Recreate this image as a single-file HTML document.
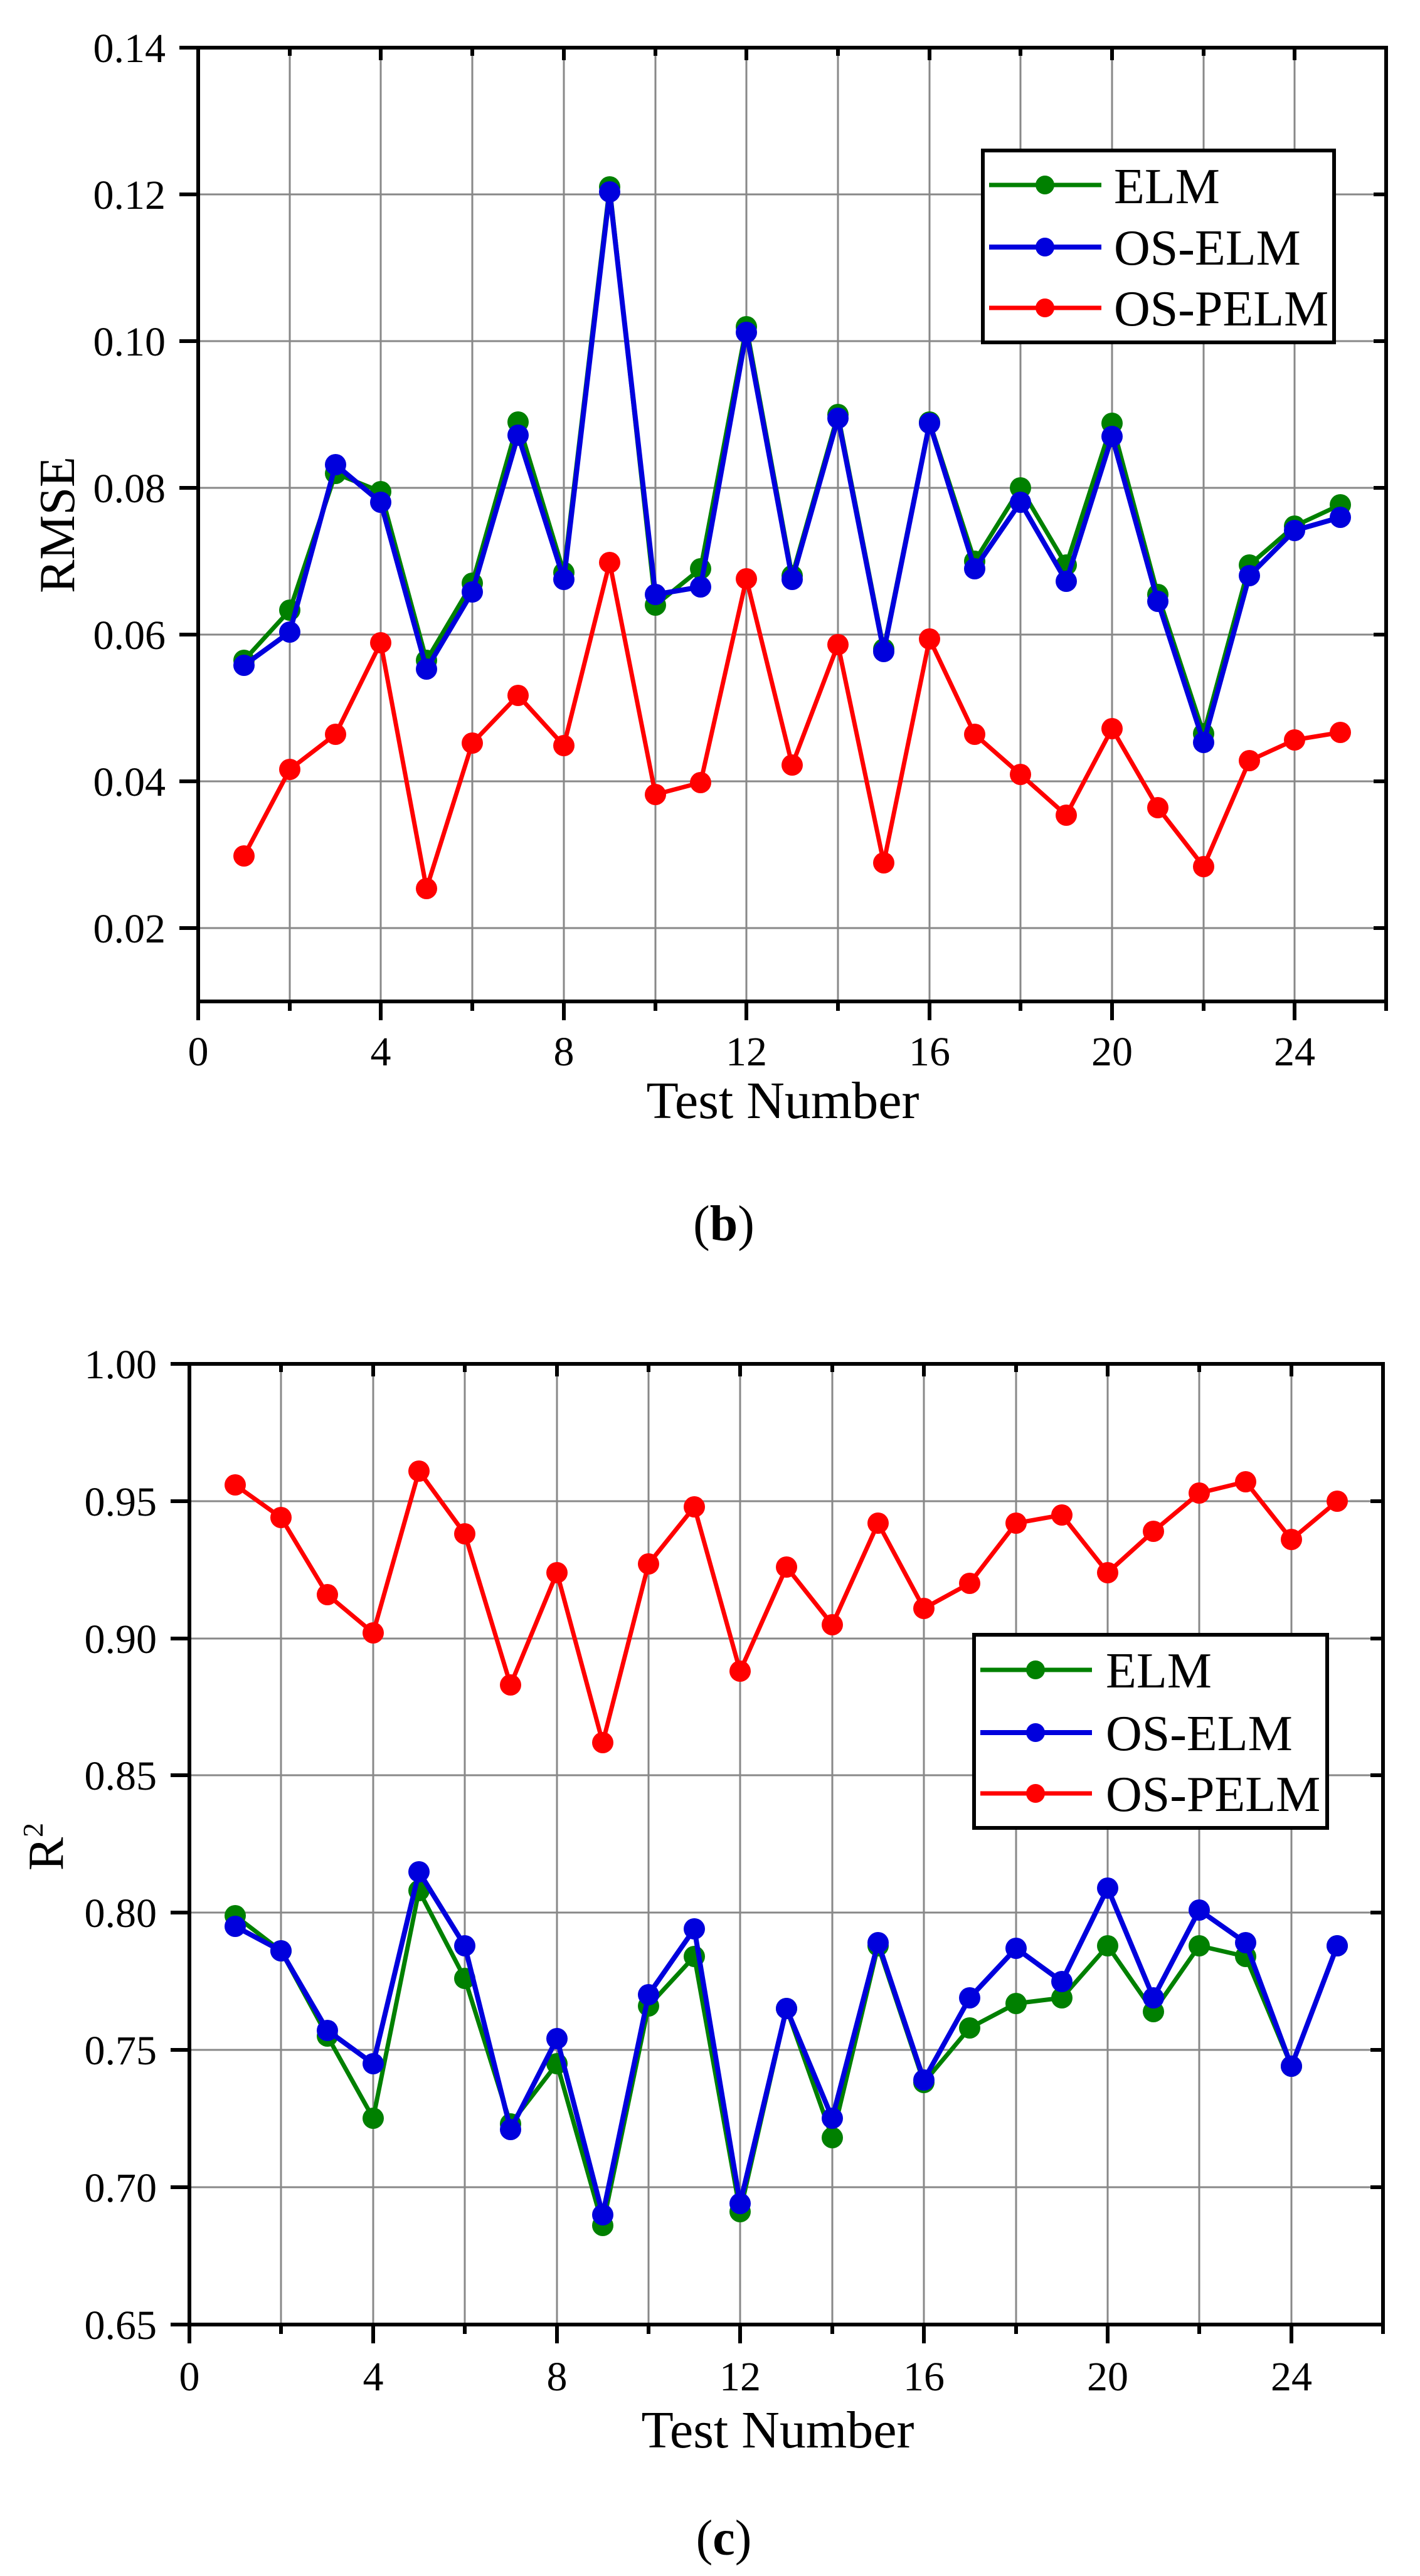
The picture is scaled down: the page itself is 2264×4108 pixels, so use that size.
<!DOCTYPE html>
<html><head><meta charset="utf-8"><style>
html,body{margin:0;padding:0;background:#fff;}
svg{display:block;}
text{font-family:"Liberation Serif",serif;fill:#000;}
</style></head><body>
<svg width="2264" height="4108" viewBox="0 0 2264 4108" xmlns="http://www.w3.org/2000/svg">
<defs>
<marker id="mg" markerUnits="userSpaceOnUse" markerWidth="40" markerHeight="40" refX="20" refY="20"><circle cx="20" cy="20" r="17" fill="#008000"/></marker>
<marker id="mb" markerUnits="userSpaceOnUse" markerWidth="40" markerHeight="40" refX="20" refY="20"><circle cx="20" cy="20" r="17" fill="#0000dd"/></marker>
<marker id="mr" markerUnits="userSpaceOnUse" markerWidth="40" markerHeight="40" refX="20" refY="20"><circle cx="20" cy="20" r="17" fill="#ff0000"/></marker>
</defs>
<rect width="2264" height="4108" fill="#fff"/>

<!-- ===== Chart 1 ===== -->
<g stroke="#888" stroke-width="3">
<path d="M462 76V1597M607 76V1597M753 76V1597M899 76V1597M1045 76V1597M1190 76V1597M1336 76V1597M1482 76V1597M1627 76V1597M1773 76V1597M1919 76V1597M2064 76V1597"/>
<path d="M316 310H2210M316 544H2210M316 778H2210M316 1012H2210M316 1246H2210M316 1480H2210"/>
</g>
<g stroke="#000" stroke-width="6" fill="none">
<rect x="316" y="76" width="1894" height="1521"/>
<path d="M286 76H316M286 310H316M286 544H316M286 778H316M286 1012H316M286 1246H316M286 1480H316"/>
<path d="M2190 310H2210M2190 544H2210M2190 778H2210M2190 1012H2210M2190 1246H2210M2190 1480H2210"/>
<path d="M316 1597v30M462 1597v15M607 1597v30M753 1597v15M899 1597v30M1045 1597v15M1190 1597v30M1336 1597v15M1482 1597v30M1627 1597v15M1773 1597v30M1919 1597v15M2064 1597v30M2210 1597v15"/>
<path d="M462 76v13M607 76v20M753 76v13M899 76v20M1045 76v13M1190 76v20M1336 76v13M1482 76v20M1627 76v13M1773 76v20M1919 76v13M2064 76v20"/>
</g>
<g fill="none" stroke-linejoin="round">
<polyline stroke="#008000" stroke-width="7" marker-start="url(#mg)" marker-mid="url(#mg)" marker-end="url(#mg)" points="389,1053 462,973 535,755 607,784 680,1053 753,930 826,673 899,913 972,298 1045,965 1117,907 1190,521 1263,918 1336,661 1409,1035 1482,673 1554,895 1627,778 1700,901 1773,675 1846,948 1919,1170 1992,901 2064,839 2137,805"/>
<polyline stroke="#0000dd" stroke-width="8" marker-start="url(#mb)" marker-mid="url(#mb)" marker-end="url(#mb)" points="389,1061 462,1008 535,741 607,801 680,1067 753,944 826,694 899,924 972,306 1045,948 1117,936 1190,530 1263,924 1336,667 1409,1039 1482,675 1554,907 1627,801 1700,927 1773,696 1846,959 1919,1184 1992,918 2064,846 2137,825"/>
<polyline stroke="#ff0000" stroke-width="7" marker-start="url(#mr)" marker-mid="url(#mr)" marker-end="url(#mr)" points="389,1365 462,1227 535,1171 607,1025 680,1417 753,1185 826,1109 899,1189 972,897 1045,1267 1117,1248 1190,923 1263,1220 1336,1028 1409,1376 1482,1019 1554,1171 1627,1235 1700,1300 1773,1162 1846,1288 1919,1382 1992,1213 2064,1180 2137,1168"/>
</g>
<rect x="1567" y="240" width="560" height="306" fill="#fff" stroke="#000" stroke-width="6"/>
<path d="M1577 295H1756" stroke="#008000" stroke-width="7"/>
<path d="M1577 394H1756" stroke="#0000dd" stroke-width="8"/>
<path d="M1577 491H1756" stroke="#ff0000" stroke-width="7"/>
<circle cx="1666" cy="295" r="15" fill="#008000"/>
<circle cx="1666" cy="394" r="15" fill="#0000dd"/>
<circle cx="1666" cy="491" r="15" fill="#ff0000"/>
<g font-size="66" text-anchor="end">
<text x="264" y="99">0.14</text>
<text x="264" y="333">0.12</text>
<text x="264" y="567">0.10</text>
<text x="264" y="801">0.08</text>
<text x="264" y="1035">0.06</text>
<text x="264" y="1269">0.04</text>
<text x="264" y="1503">0.02</text>
</g>
<g font-size="66" text-anchor="middle">
<text x="316" y="1699">0</text>
<text x="607" y="1699">4</text>
<text x="899" y="1699">8</text>
<text x="1190" y="1699">12</text>
<text x="1482" y="1699">16</text>
<text x="1773" y="1699">20</text>
<text x="2064" y="1699">24</text>
</g>
<text x="1248" y="1783" font-size="84" text-anchor="middle">Test Number</text>
<text transform="translate(118,837) rotate(-90)" font-size="80" text-anchor="middle">RMSE</text>
<text x="1154" y="1978" font-size="80" text-anchor="middle">(<tspan font-weight="bold">b</tspan>)</text>
<g font-size="80">
<text x="1776" y="324">ELM</text>
<text x="1776" y="422">OS-ELM</text>
<text x="1776" y="519">OS-PELM</text>
</g>

<!-- ===== Chart 2 ===== -->
<g stroke="#888" stroke-width="3">
<path d="M448 2175V3707M595 2175V3707M741 2175V3707M888 2175V3707M1034 2175V3707M1180 2175V3707M1327 2175V3707M1473 2175V3707M1620 2175V3707M1766 2175V3707M1912 2175V3707M2059 2175V3707"/>
<path d="M302 2394H2205M302 2613H2205M302 2831H2205M302 3050H2205M302 3269H2205M302 3488H2205"/>
</g>
<g stroke="#000" stroke-width="6" fill="none">
<rect x="302" y="2175" width="1903" height="1532"/>
<path d="M272 2175H302M272 2394H302M272 2613H302M272 2831H302M272 3050H302M272 3269H302M272 3488H302M272 3707H302"/>
<path d="M2185 2394H2205M2185 2613H2205M2185 2831H2205M2185 3050H2205M2185 3269H2205M2185 3488H2205"/>
<path d="M302 3707v30M448 3707v15M595 3707v30M741 3707v15M888 3707v30M1034 3707v15M1180 3707v30M1327 3707v15M1473 3707v30M1620 3707v15M1766 3707v30M1912 3707v15M2059 3707v30M2205 3707v15"/>
<path d="M448 2175v13M595 2175v20M741 2175v13M888 2175v20M1034 2175v13M1180 2175v20M1327 2175v13M1473 2175v20M1620 2175v13M1766 2175v20M1912 2175v13M2059 2175v20"/>
</g>
<g fill="none" stroke-linejoin="round">
<polyline stroke="#008000" stroke-width="7" marker-start="url(#mg)" marker-mid="url(#mg)" marker-end="url(#mg)" points="375,3055 448,3111 522,3247 595,3378 668,3015 741,3155 814,3387 888,3291 961,3549 1034,3199 1107,3120 1180,3527 1254,3203 1327,3409 1400,3103 1473,3321 1546,3234 1620,3195 1693,3186 1766,3103 1839,3208 1912,3103 1986,3120 2059,3295 2132,3103"/>
<polyline stroke="#0000dd" stroke-width="8" marker-start="url(#mb)" marker-mid="url(#mb)" marker-end="url(#mb)" points="375,3072 448,3111 522,3238 595,3291 668,2985 741,3103 814,3396 888,3251 961,3532 1034,3181 1107,3076 1180,3514 1254,3203 1327,3378 1400,3098 1473,3317 1546,3186 1620,3107 1693,3160 1766,3011 1839,3186 1912,3046 1986,3098 2059,3295 2132,3103"/>
<polyline stroke="#ff0000" stroke-width="7" marker-start="url(#mr)" marker-mid="url(#mr)" marker-end="url(#mr)" points="375,2368 448,2420 522,2543 595,2604 668,2346 741,2446 814,2687 888,2508 961,2779 1034,2494 1107,2403 1180,2665 1254,2499 1327,2591 1400,2429 1473,2565 1546,2525 1620,2429 1693,2416 1766,2508 1839,2442 1912,2381 1986,2363 2059,2455 2132,2394"/>
</g>
<rect x="1553" y="2607" width="563" height="308" fill="#fff" stroke="#000" stroke-width="6"/>
<path d="M1563 2663H1741" stroke="#008000" stroke-width="7"/>
<path d="M1563 2763H1741" stroke="#0000dd" stroke-width="8"/>
<path d="M1563 2860H1741" stroke="#ff0000" stroke-width="7"/>
<circle cx="1651" cy="2663" r="15" fill="#008000"/>
<circle cx="1651" cy="2763" r="15" fill="#0000dd"/>
<circle cx="1651" cy="2860" r="15" fill="#ff0000"/>
<g font-size="66" text-anchor="end">
<text x="250" y="2198">1.00</text>
<text x="250" y="2417">0.95</text>
<text x="250" y="2636">0.90</text>
<text x="250" y="2854">0.85</text>
<text x="250" y="3073">0.80</text>
<text x="250" y="3292">0.75</text>
<text x="250" y="3511">0.70</text>
<text x="250" y="3730">0.65</text>
</g>
<g font-size="66" text-anchor="middle">
<text x="302" y="3812">0</text>
<text x="595" y="3812">4</text>
<text x="888" y="3812">8</text>
<text x="1180" y="3812">12</text>
<text x="1473" y="3812">16</text>
<text x="1766" y="3812">20</text>
<text x="2059" y="3812">24</text>
</g>
<text x="1240" y="3903" font-size="84" text-anchor="middle">Test Number</text>
<text transform="translate(100,2945) rotate(-90)" font-size="80" text-anchor="middle">R<tspan font-size="46" dy="-32">2</tspan></text>
<text x="1154" y="4074" font-size="80" text-anchor="middle">(<tspan font-weight="bold">c</tspan>)</text>
<g font-size="80">
<text x="1763" y="2691">ELM</text>
<text x="1763" y="2791">OS-ELM</text>
<text x="1763" y="2888">OS-PELM</text>
</g>
</svg>
</body></html>
